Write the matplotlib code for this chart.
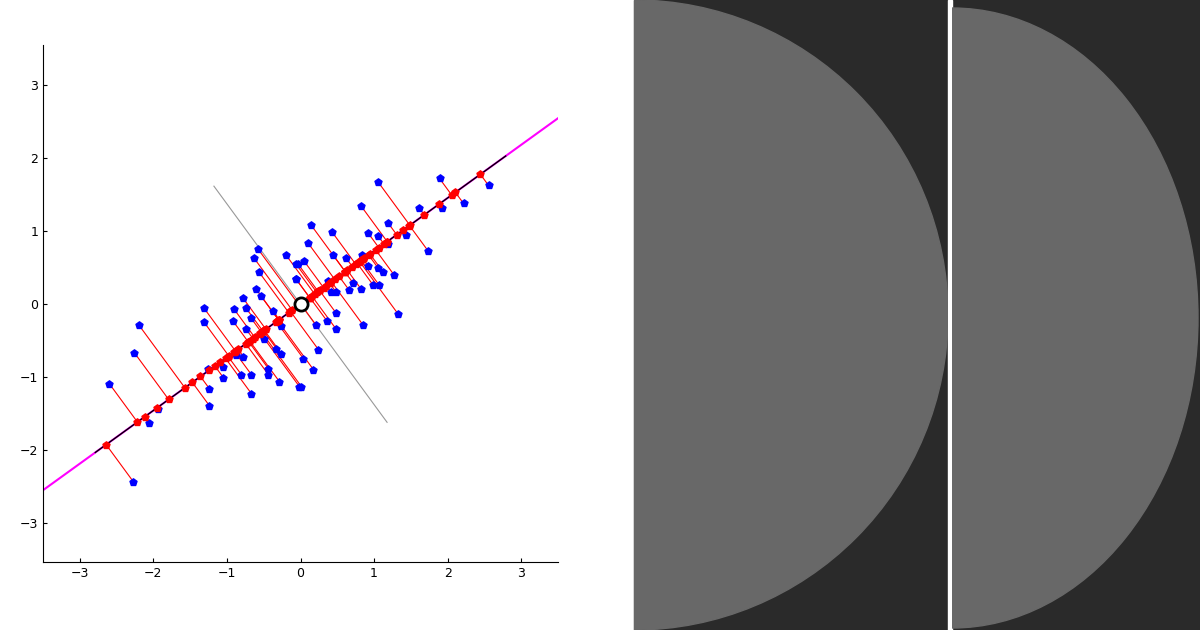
import numpy as np
import matplotlib.pyplot as plt
from matplotlib.patches import Ellipse, Rectangle

# blue sample points (pixel positions converted below)
px = [257, 253, 285, 295, 258, 295, 255, 260, 242, 203, 233, 245, 272, 203, 232, 250, 245, 280,
      138, 263, 275, 280, 133, 235, 242, 207, 222, 222, 240, 250, 267, 267, 278, 298, 108, 208,
      250, 157, 208, 148, 132,
      377, 438, 487, 462, 440, 418, 360, 310, 331, 387, 367, 377, 405, 427, 307, 332, 345, 361,
      387, 297, 303, 295, 367, 377, 382, 393, 352, 372, 378, 330, 335, 348, 360, 327, 397, 335,
      315, 326, 335, 362, 317, 302, 312, 300]
py = [253, 262, 259, 268, 276, 283, 293, 300, 302, 312, 313, 312, 315, 326, 325, 322, 333, 330,
      329, 343, 352, 357, 356, 358, 360, 372, 370, 381, 378, 378, 372, 378, 385, 390, 387, 392,
      397, 412, 409, 426, 485,
      186, 182, 189, 207, 212, 212, 210, 229, 236, 227, 237, 240, 239, 255, 247, 259, 262, 259,
      248, 268, 265, 283, 270, 272, 276, 279, 287, 289, 289, 296, 296, 294, 293, 285, 318, 317,
      329, 325, 333, 329, 353, 362, 373, 390]
xs = (np.array(px) - 300) / 73.5
ys = (304 - np.array(py)) / 73.0
ticks = [-3, -2, -1, 0, 1, 2, 3]

pts = np.column_stack([xs, ys])
pts = pts - pts.mean(axis=0)
cov = np.cov(pts.T)
vals, vecs = np.linalg.eigh(cov)
u = vecs[:, 1]
if u[0] < 0:
    u = -u
v = vecs[:, 0]
proj = pts @ u
ppts = np.outer(proj, u)

fig = plt.figure(figsize=(12, 6.3), dpi=100)

# right: dark panels with grey half-circles
bg = fig.add_axes([0, 0, 1, 1], zorder=-1)
bg.set_xlim(0, 1200)
bg.set_ylim(630, 0)
bg.axis("off")
bg.add_patch(Rectangle((634, 0), 566, 630, color="#2a2a2a"))
bg.add_patch(Rectangle((948, 0), 4, 630, color="white"))
panel1 = Rectangle((634, 0), 314, 630, fill=False, lw=0, transform=bg.transData)
panel2 = Rectangle((952, 0), 248, 630, fill=False, lw=0, transform=bg.transData)
e1 = bg.add_patch(Ellipse((634, 315), 628, 630, color="#686868"))
e1.set_clip_path(panel1)
e2 = bg.add_patch(Ellipse((952, 318), 492, 620, color="#686868"))
e2.set_clip_path(panel2)

# left: PCA plot
ax = fig.add_axes([43 / 1200, 1 - 562 / 630, 515 / 1200, 517 / 630])
ax.patch.set_alpha(0)
t = np.array([-5, 5])
ax.plot(t * u[0], t * u[1], color="magenta", lw=1.5, zorder=1)
t2 = np.array([-3.45, 3.45])
ax.plot(t2 * u[0], t2 * u[1], color="black", lw=1, zorder=2)
t3 = np.array([-2.0, 2.0])
ax.plot(t3 * v[0], t3 * v[1], color="#999999", lw=0.8, zorder=1)
for (x0, y0), (x1, y1) in zip(pts, ppts):
    ax.plot([x0, x1], [y0, y1], color="red", lw=0.8, zorder=3)
ax.scatter(pts[:, 0], pts[:, 1], s=28, color="blue", marker="p", zorder=4)
ax.scatter(ppts[:, 0], ppts[:, 1], s=28, color="red", marker="p", zorder=5)
ax.scatter([0], [0], s=90, facecolor="white", edgecolor="black", linewidth=2, zorder=6)
ax.set_xlim(-3.5, 3.5)
ax.set_ylim(-3.53, 3.55)
ax.set_xticks(ticks)
ax.set_yticks(ticks)
ax.tick_params(labelsize=9, direction="in", length=3)
for s in ["top", "right"]:
    ax.spines[s].set_visible(False)

fig.savefig("out.png")
